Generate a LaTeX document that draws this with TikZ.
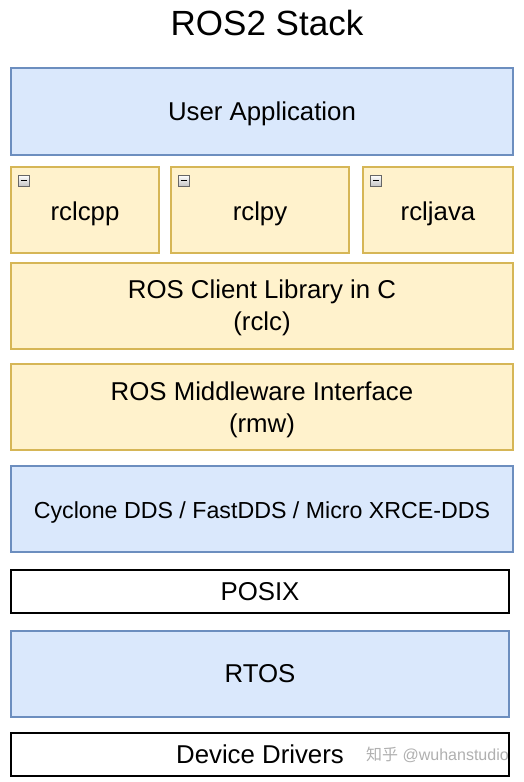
\documentclass[tikz,border=0pt]{standalone}
\usepackage{fontspec}
\setmainfont{Liberation Sans}
\newfontfamily\cjkfont{Noto Sans CJK SC}
\definecolor{bluefill}{HTML}{DAE8FC}
\definecolor{bluedraw}{HTML}{6C8EBF}
\definecolor{yelfill}{HTML}{FFF2CC}
\definecolor{yeldraw}{HTML}{D6B656}
\definecolor{wmgray}{HTML}{B0B0B0}
% lower text by #1 inside a node of fixed minimum height
\newcommand{\lowertext}[2]{\raisebox{0pt}[\dimexpr\height+#1*2\relax][\depth]{#2}}
\begin{document}
\begin{tikzpicture}[x=1pt,y=-1pt,
  layer/.style={draw, line width=1.2pt, inner sep=0pt, align=center,
    font=\fontsize{25.8}{32}\selectfont},
  bluebox/.style={layer, fill=bluefill, draw=bluedraw},
  yelbox/.style={layer, fill=yelfill, draw=yeldraw},
  whitebox/.style={layer, fill=white, draw=black},
  minusicon/.style={draw=gray!80!black, line width=0.6pt, top color=white, bottom color=gray!45, minimum size=11pt, inner sep=0pt}
]
\useasboundingbox (0,0) rectangle (524,782);
\fill[white] (0,0) rectangle (524,782);

\node[font=\fontsize{35}{40}\selectfont] (title) at (267,23) {ROS2 Stack};

\node[bluebox, minimum width=502pt, minimum height=87pt] (app) at (262,111.5) {\lowertext{2pt}{User Application}};

\node[yelbox, minimum width=148pt, minimum height=86pt] (rclcpp) at (85,210) {\lowertext{4pt}{rclcpp}};
\node[yelbox, minimum width=178pt, minimum height=86pt] (rclpy) at (260,210) {\lowertext{4pt}{rclpy}};
\node[yelbox, minimum width=150pt, minimum height=86pt] (rcljava) at (438,210) {\lowertext{4pt}{rcljava}};

\node[yelbox, minimum width=502pt, minimum height=86pt] (rclc) at (262,306) {\lowertext{2.5pt}{\begin{tabular}{@{}c@{}}ROS Client Library in C\\(rclc)\end{tabular}}};
\node[yelbox, minimum width=502pt, minimum height=86pt] (rmw) at (262,407) {\lowertext{3pt}{\begin{tabular}{@{}c@{}}ROS Middleware Interface\\(rmw)\end{tabular}}};

\node[bluebox, minimum width=502pt, minimum height=86pt, font=\fontsize{23.2}{28}\selectfont] (dds) at (262,509) {\lowertext{3pt}{Cyclone DDS / FastDDS / Micro XRCE-DDS}};

\node[whitebox, minimum width=498pt, minimum height=43pt] (posix) at (260,591.5) {POSIX};
\node[bluebox, minimum width=498pt, minimum height=86pt] (rtos) at (260,674) {RTOS};
\node[whitebox, minimum width=498pt, minimum height=43pt] (drivers) at (260,754.5) {Device Drivers};

\node[minusicon] (m1) at (23.5,180.5) {};
\node[minusicon] (m2) at (183.5,180.5) {};
\node[minusicon] (m3) at (376,180.5) {};
\foreach \m in {m1,m2,m3}{
  \draw[line width=1.6pt] ([xshift=-3pt]\m.center) -- ([xshift=3pt]\m.center);
}

\node[text=wmgray, anchor=west, inner sep=0pt, font=\fontsize{16}{18}\selectfont] (wm) at (366,755) {{\cjkfont 知乎} @wuhanstudio};
\end{tikzpicture}
\end{document}
